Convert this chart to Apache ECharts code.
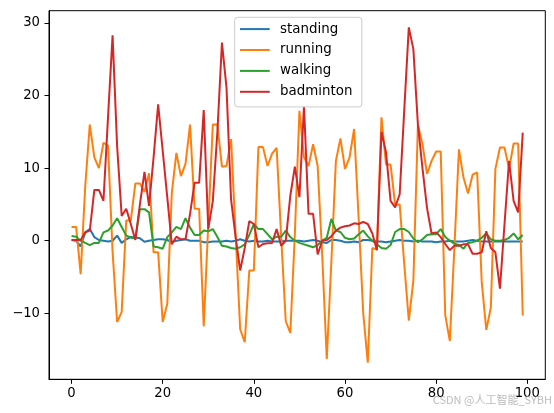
<!DOCTYPE html>
<html>
<head>
<meta charset="utf-8">
<script src="https://cdn.jsdelivr.net/npm/echarts@6/dist/echarts.min.js"></script>
<style>
html,body{margin:0;padding:0;background:#fff;}
#c{width:554px;height:413px;}
</style>
</head>
<body>
<div id="c"></div>
<script>
const seriesNames = ['standing', 'running', 'walking', 'badminton'];
const xTicks = [0, 20, 40, 60, 80, 100];
const yTicks = [-10, 0, 10, 20, 30];

const standing = [
  0.1, 0.0, -0.8, 1.15, 1.6, 0.5, 0.1, 0.0, -0.1, 0.0, 0.7, -0.3, 0.2, 0.5, 0.45, 0.35, -0.15, 0.0, 0.1, 0.2,
  0.2, 0.1, -0.2, 0.0, 0.1, 0.2, 0.0, 0.0, 0.0, -0.2, -0.2, -0.1, -0.1, -0.1, 0.0, -0.1, 0.0, 0.2, 0.0, -0.1,
  0.0, -0.1, -0.1, 0.0, -0.1, -0.1, -0.1, 0.0, 0.0, 0.0, 0.0, -0.1, 0.0, 0.1, 0.0, -0.2, -0.3, 0.1, 0.1, 0.0,
  -0.2, -0.2, -0.1, -0.2, 0.1, 0.1, 0.0, -0.1, -0.1, -0.2, -0.1, 0.0, 0.1, 0.0, 0.0, -0.1, 0.0, -0.1, -0.1, -0.1,
  -0.2, -0.1, -0.1, 0.0, -0.1, -0.1, -0.1, 0.0, 0.1, 0.0, -0.1, -0.1, -0.1, -0.1, -0.1, -0.1, -0.1, -0.1, -0.1, -0.1
];
const running = [
  1.9, 1.9, -4.6, 7.5, 16.0, 11.5, 10.0, 13.5, 13.1, -1.5, -11.2, -9.8, 2.8, 2.8, 7.9, 7.9, 6.7, 9.3, -1.6, -1.6,
  -11.2, -8.7, 6.6, 12.1, 8.9, 10.6, 16.0, 4.4, 4.4, -11.8, 2.3, 16.0, 16.0, 10.2, 10.3, 14.0, 0.9, -12.2, -14.0, -4.1,
  -4.1, 12.9, 12.9, 10.3, 12.0, 12.8, 0.5, -11.1, -12.7, 1.0, 17.9, 11.5, 10.3, 13.3, 10.3, -2.0, -16.3, -3.0, 11.0, 14.1,
  9.9, 11.5, 15.4, 3.0, -10.0, -16.8, -1.0, -1.2, 17.0, 10.5, 10.5, 5.0, 5.0, -3.2, -11.0, -5.5, 16.0, 13.3, 9.2, 11.0,
  12.3, 12.3, -10.3, -13.8, -1.0, 12.6, 8.7, 6.5, 9.1, 9.4, -5.7, -12.3, -9.2, 9.9, 12.85, 12.85, 9.9, 13.4, 13.4, -10.3
];
const walking = [
  0.65, 0.55, 0.0, -0.3, -0.6, -0.3, -0.3, 1.15, 1.4, 2.1, 3.1, 1.9, 0.7, 0.45, 0.3, 4.35, 4.35, 3.9, -0.8, -0.9,
  -1.1, 0.5, 1.15, 1.9, 1.6, 3.1, 1.8, 0.8, 0.8, 1.4, 1.3, 1.6, 0.5, -0.7, -0.8, -1.0, -1.1, -0.9, -0.5, 0.8,
  2.3, 1.6, 1.6, 0.9, 0.2, 0.55, 0.55, 1.4, 0.5, 0.0, -0.3, -0.5, -0.7, -0.9, -0.6, 0.0, 0.4, 3.0, 1.4, 1.2,
  0.4, 0.2, 0.3, 0.9, 1.4, 0.6, 0.0, -0.5, -1.0, -1.1, -0.6, 1.2, 1.6, 1.6, 1.2, 0.3, -0.2, 0.2, 0.8, 0.9,
  0.9, 1.6, 0.5, 0.0, -0.4, -0.6, -1.1, -0.3, -0.2, 0.0, 0.4, 1.0, 0.2, 0.0, 0.0, 0.1, 0.4, 1.0, 0.2, 0.8
];
const badminton = [
  0.1, 0.1, 0.1, 1.15, 1.4, 7.0, 7.0, 5.5, 17.0, 28.3, 13.0, 3.4, 4.4, 2.3, 0.1, 5.0, 9.5, 4.8, 11.5, 18.8,
  12.4, 6.0, -0.5, 0.55, 0.2, 0.2, 3.7, 8.0, 8.0, 18.0, 1.6, 5.5, 15.0, 27.3, 21.1, 5.7, 0.5, -4.1, -1.0, 2.7,
  2.3, -0.9, -0.45, -0.36, -0.3, 1.6, -0.7, 0.0, 6.2, 10.2, 6.0, 18.6, 3.7, 3.7, -1.9, 0.0, 0.1, 0.6, 1.4, 1.8,
  2.0, 2.1, 2.4, 2.3, 2.6, 2.3, 1.0, -1.3, 15.0, 12.2, 5.5, 4.6, 6.4, 18.0, 29.4, 26.4, 16.0, 10.0, 4.5, 1.0,
  1.15, 0.5, -0.45, -1.3, -0.7, -0.7, -0.5, -0.5, -1.8, -1.8, -1.6, 1.3, -1.0, -1.6, -6.6, 2.3, 11.0, 5.5, 3.9, 14.9
];

const allValues = [standing, running, walking, badminton];
const colors = ['#1f77b4', '#ff7f0e', '#2ca02c', '#d62728'];
const font = 'DejaVu Sans';
const fmt = v => String(v).replace('-', '\u2212');

const chart = echarts.init(document.getElementById('c'), null, {renderer: 'canvas'});
chart.setOption({
  animation: false,
  backgroundColor: '#fff',
  grid: {
    left: 49, right: 8.7, top: 10.7, bottom: 33.7,
    show: true, borderColor: '#000', borderWidth: 1, backgroundColor: 'transparent'
  },
  xAxis: {
    type: 'value', min: -4.95, max: 103.95,
    axisLine: {show: true, onZero: false, lineStyle: {color: '#000', width: 1}},
    axisTick: {show: true, length: 4.5, lineStyle: {color: '#000', width: 1}, customValues: xTicks},
    axisLabel: {customValues: xTicks, color: '#000', fontSize: 13.2, fontFamily: font, margin: 8, formatter: fmt},
    splitLine: {show: false}
  },
  yAxis: {
    type: 'value', min: -19.1, max: 31.7,
    axisLine: {show: true, onZero: false, lineStyle: {color: '#000', width: 1}},
    axisTick: {show: true, length: 4.5, lineStyle: {color: '#000', width: 1}, customValues: yTicks},
    axisLabel: {customValues: yTicks, color: '#000', fontSize: 13.2, fontFamily: font, margin: 9, formatter: fmt},
    splitLine: {show: false}
  },
  legend: {
    data: seriesNames,
    orient: 'vertical',
    left: 234.7, top: 17.3,
    padding: [5.3, 9.4, 8.6, 4.3],
    itemWidth: 29.7, itemHeight: 14, itemGap: 7.9,
    itemStyle: {opacity: 0},
    backgroundColor: 'rgba(255,255,255,0.8)',
    borderColor: '#cccccc', borderWidth: 1, borderRadius: 3,
    textStyle: {color: '#000', fontSize: 13.4, fontFamily: font, padding: [0, 0, 0, 5.3]}
  },
  graphic: [{
    type: 'text', right: 2, top: 394, z: 100,
    style: {text: 'CSDN @人工智能_SYBH', fill: 'rgba(165,165,165,0.75)', font: '11px "Noto Sans CJK SC"'}
  }],
  series: seriesNames.map((name, k) => ({
    name, type: 'line', symbol: 'none',
    data: allValues[k].map((v, i) => [i, v]),
    lineStyle: {width: 2, color: colors[k]},
    itemStyle: {color: colors[k]}
  }))
});
</script>
</body>
</html>
